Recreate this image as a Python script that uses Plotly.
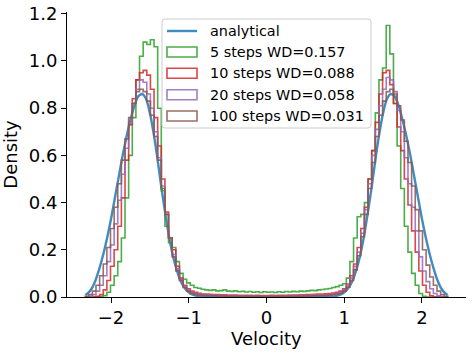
import plotly.graph_objects as go

# ---------------- data ----------------
bin_lo, bin_hi, n_bins = -2.333, 2.333, 100

green_5 = [0, 0, 0, 0, 0.002, 0.006, 0.02, 0.05, 0.09, 0.15,
           0.25, 0.42, 0.60, 0.76, 0.92, 1.02, 1.08, 1.07, 1.09, 1.06,
           0.80, 0.45, 0.30, 0.23, 0.21, 0.15, 0.10, 0.075, 0.06, 0.05,
           0.04, 0.037, 0.033,
           0.030, 0.028, 0.030, 0.026, 0.027, 0.030, 0.025, 0.024, 0.026, 0.022,
           0.024, 0.021, 0.023, 0.020, 0.022, 0.019, 0.022, 0.020, 0.021, 0.019,
           0.022, 0.020, 0.023, 0.021, 0.024, 0.022, 0.025, 0.024, 0.026, 0.028,
           0.027, 0.030, 0.032, 0.034, 0.036, 0.040, 0.044,
           0.050, 0.056, 0.08, 0.15, 0.25, 0.34, 0.35, 0.40, 0.50, 0.62,
           0.78, 0.92, 0.97, 1.15, 1.03, 0.82, 0.64, 0.46, 0.30, 0.19,
           0.10, 0.05, 0.015, 0.003, 0, 0, 0, 0, 0, 0]

red_10 = [0, 0, 0, 0.003, 0.01, 0.03, 0.07, 0.13, 0.20, 0.30,
          0.42, 0.58, 0.73, 0.84, 0.92, 0.95, 0.96, 0.94, 0.88, 0.76,
          0.64, 0.50, 0.36, 0.25, 0.20, 0.13, 0.08, 0.05, 0.035, 0.025,
          0.02, 0.016, 0.013,
          0.012, 0.011, 0.010, 0.010, 0.009, 0.009, 0.008, 0.008, 0.008, 0.007,
          0.007, 0.007, 0.007, 0.006, 0.007, 0.006, 0.006, 0.006, 0.007, 0.006,
          0.007, 0.007, 0.007, 0.008, 0.008, 0.008, 0.009, 0.009, 0.010, 0.010,
          0.011, 0.012, 0.013, 0.014, 0.015, 0.017, 0.020,
          0.025, 0.035, 0.055, 0.09, 0.14, 0.21, 0.29, 0.38, 0.50, 0.62,
          0.74, 0.86, 0.95, 0.96, 0.90, 0.82, 0.72, 0.62, 0.50, 0.39,
          0.28, 0.19, 0.11, 0.05, 0.02, 0.005, 0, 0, 0, 0]

purple_20 = [0, 0.003, 0.01, 0.025, 0.05, 0.09, 0.15, 0.22, 0.31, 0.41,
             0.52, 0.63, 0.74, 0.82, 0.88, 0.92, 0.91, 0.86, 0.80, 0.70,
             0.59, 0.47, 0.35, 0.25, 0.18, 0.12, 0.075, 0.045, 0.03, 0.02,
             0.015, 0.012, 0.010,
             0.009, 0.008, 0.007, 0.007, 0.006, 0.006, 0.005, 0.005, 0.005, 0.004,
             0.005, 0.004, 0.004, 0.004, 0.004, 0.003, 0.004, 0.004, 0.003, 0.004,
             0.004, 0.004, 0.005, 0.004, 0.005, 0.005, 0.005, 0.006, 0.006, 0.006,
             0.007, 0.008, 0.008, 0.009, 0.010, 0.012, 0.015,
             0.02, 0.03, 0.05, 0.08, 0.13, 0.19, 0.27, 0.37, 0.48, 0.60,
             0.71, 0.81, 0.88, 0.93, 0.92, 0.87, 0.79, 0.70, 0.59, 0.48,
             0.38, 0.28, 0.17, 0.11, 0.065, 0.035, 0.015, 0.005, 0.001, 0]

brown_100 = [0.003, 0.01, 0.025, 0.05, 0.09, 0.14, 0.21, 0.29, 0.38, 0.48,
             0.58, 0.67, 0.76, 0.82, 0.87, 0.88, 0.87, 0.83, 0.77, 0.68,
             0.58, 0.46, 0.35, 0.25, 0.17, 0.11, 0.07, 0.04, 0.025, 0.016,
             0.011, 0.008, 0.007,
             0.006, 0.005, 0.005, 0.004, 0.004, 0.004, 0.003, 0.003, 0.003, 0.003,
             0.002, 0.003, 0.002, 0.002, 0.002, 0.002, 0.002, 0.002, 0.002, 0.002,
             0.002, 0.003, 0.002, 0.003, 0.003, 0.003, 0.003, 0.004, 0.004, 0.004,
             0.005, 0.005, 0.006, 0.007, 0.008, 0.010, 0.012,
             0.016, 0.025, 0.042, 0.07, 0.115, 0.175, 0.255, 0.35, 0.46, 0.57,
             0.68, 0.77, 0.83, 0.87, 0.88, 0.86, 0.81, 0.75, 0.66, 0.57,
             0.47, 0.37, 0.28, 0.20, 0.135, 0.085, 0.05, 0.025, 0.01, 0.003]

analytic_v = [-2.33, -2.3, -2.25, -2.2, -2.15, -2.1, -2.05, -2.0, -1.95, -1.9,
              -1.85, -1.8, -1.75, -1.7, -1.65, -1.6, -1.55, -1.5, -1.45, -1.4,
              -1.35, -1.3, -1.25, -1.2, -1.15, -1.1, -1.05, -1.0, -0.95, -0.9,
              -0.85, -0.8, -0.6, -0.4, -0.2, 0.0, 0.2, 0.4, 0.6,
              0.8, 0.85, 0.9, 0.95, 1.0, 1.05, 1.1, 1.15, 1.2, 1.25,
              1.3, 1.35, 1.4, 1.45, 1.5, 1.55, 1.6, 1.65, 1.7, 1.75,
              1.8, 1.85, 1.9, 1.95, 2.0, 2.05, 2.1, 2.15, 2.2, 2.25, 2.3, 2.33]
analytic_d = [0.008, 0.015, 0.035, 0.07, 0.12, 0.18, 0.25, 0.33, 0.42, 0.51,
              0.60, 0.68, 0.75, 0.81, 0.85, 0.86, 0.84, 0.78, 0.69, 0.58,
              0.46, 0.35, 0.25, 0.17, 0.11, 0.065, 0.037, 0.02, 0.01, 0.005,
              0.002, 0.001, 0.0, 0.0, 0.0, 0.0, 0.0, 0.0, 0.0,
              0.001, 0.002, 0.005, 0.01, 0.02, 0.037, 0.065, 0.11, 0.17, 0.25,
              0.35, 0.46, 0.58, 0.69, 0.78, 0.84, 0.86, 0.85, 0.81, 0.75,
              0.68, 0.60, 0.51, 0.42, 0.33, 0.25, 0.18, 0.12, 0.07, 0.035, 0.015, 0.008]

series_names = ["5 steps WD=0.157", "10 steps WD=0.088",
                "20 steps WD=0.058", "100 steps WD=0.031"]
series_values = [green_5, red_10, purple_20, brown_100]
series_colors = ["#2ca02c", "#d62728", "#9467bd", "#8c564b"]
analytic_name = "analytical"
analytic_color = "#1f77b4"

x_title = "Velocity"
y_title = "Density"
x_tick_vals = [-2, -1, 0, 1, 2]
x_tick_text = ["\u22122", "\u22121", "0", "1", "2"]
y_tick_vals = [0.0, 0.2, 0.4, 0.6, 0.8, 1.0, 1.2]
y_tick_text = ["0.0", "0.2", "0.4", "0.6", "0.8", "1.0", "1.2"]

# ---------------- figure ----------------
FONT = "DejaVu Sans"
edges = [bin_lo + i * (bin_hi - bin_lo) / n_bins for i in range(n_bins + 1)]


def step_xy(vals):
    xs = [edges[0]] + edges[:-1] + [edges[-1], edges[-1]]
    ys = [0] + list(vals) + [vals[-1], 0]
    return xs, ys


fig = go.Figure()
fig.add_trace(go.Scatter(x=analytic_v, y=analytic_d, mode="lines",
                         line=dict(color=analytic_color, width=2.4, shape="spline", smoothing=0.6),
                         opacity=0.85, showlegend=False, name=analytic_name))
for name, vals, col in zip(series_names, series_values, series_colors):
    xs, ys = step_xy(vals)
    fig.add_trace(go.Scatter(x=xs, y=ys, mode="lines", name=name,
                             line=dict(color=col, width=1.6, shape="hv"),
                             opacity=0.85, showlegend=False))

# ---- manual matplotlib-style legend (pixel offsets from top-left of plot area) ----
shapes = []
annotations = []
bx0, bx1, by0, by1, r = 95, 304, -7, -116, 3
path = (f"M {bx0 + r},{by0} L {bx1 - r},{by0} Q {bx1},{by0} {bx1},{by0 - r} "
        f"L {bx1},{by1 + r} Q {bx1},{by1} {bx1 - r},{by1} "
        f"L {bx0 + r},{by1} Q {bx0},{by1} {bx0},{by1 + r} "
        f"L {bx0},{by0 - r} Q {bx0},{by0} {bx0 + r},{by0} Z")
common = dict(xref="paper", yref="paper", xsizemode="pixel", ysizemode="pixel",
              xanchor=0, yanchor=1, layer="above")
shapes.append(dict(type="path", path=path, fillcolor="rgba(255,255,255,0.8)",
                   line=dict(color="#cccccc", width=1), **common))
row_y = [-19, -40, -61.3, -82.7, -104]
hx0, hx1 = 100, 130
shapes.append(dict(type="line", x0=hx0, x1=hx1, y0=row_y[0], y1=row_y[0],
                   line=dict(color=analytic_color, width=2.4), opacity=0.85, **common))
for k, col in enumerate(series_colors):
    yc = row_y[k + 1]
    shapes.append(dict(type="rect", x0=hx0, x1=hx1, y0=yc - 5, y1=yc + 5,
                       line=dict(color=col, width=1.6), opacity=0.85,
                       fillcolor="rgba(0,0,0,0)", **common))
labels = [analytic_name] + series_names
for k, lab in enumerate(labels):
    annotations.append(dict(text=lab, xref="paper", yref="paper", x=0, y=1,
                            xanchor="left", yanchor="middle", xshift=141, yshift=row_y[k],
                            showarrow=False, font=dict(family=FONT, size=14.4, color="black")))

# x-axis title placed precisely below the tick labels
annotations.append(dict(text=x_title, xref="paper", yref="paper", x=0.5, y=0,
                        xanchor="center", yanchor="middle", yshift=-41, borderpad=0,
                        showarrow=False, font=dict(family=FONT, size=18, color="black")))

axis_common = dict(showline=True, linecolor="black", linewidth=1, ticks="outside",
                   ticklen=5, tickwidth=1, tickcolor="black", showgrid=False,
                   zeroline=False, mirror=False, automargin=False,
                   tickfont=dict(family=FONT, size=18, color="black"))

fig.update_layout(
    template="none",
    width=474, height=353,
    margin=dict(l=67, r=8, t=12, b=56, pad=0),
    paper_bgcolor="white", plot_bgcolor="white",
    font=dict(family=FONT, size=18, color="black"),
    showlegend=False,
    shapes=shapes, annotations=annotations,
    xaxis=dict(range=[-2.566, 2.566], tickmode="array", tickvals=x_tick_vals,
               ticktext=x_tick_text, ticklabelstandoff=-1, **axis_common),
    yaxis=dict(range=[0, 1.2075], tickmode="array", tickvals=y_tick_vals,
               ticktext=y_tick_text,
               title=dict(text=y_title, font=dict(family=FONT, size=18), standoff=8),
               **axis_common),
)

fig.write_html("out.html")
